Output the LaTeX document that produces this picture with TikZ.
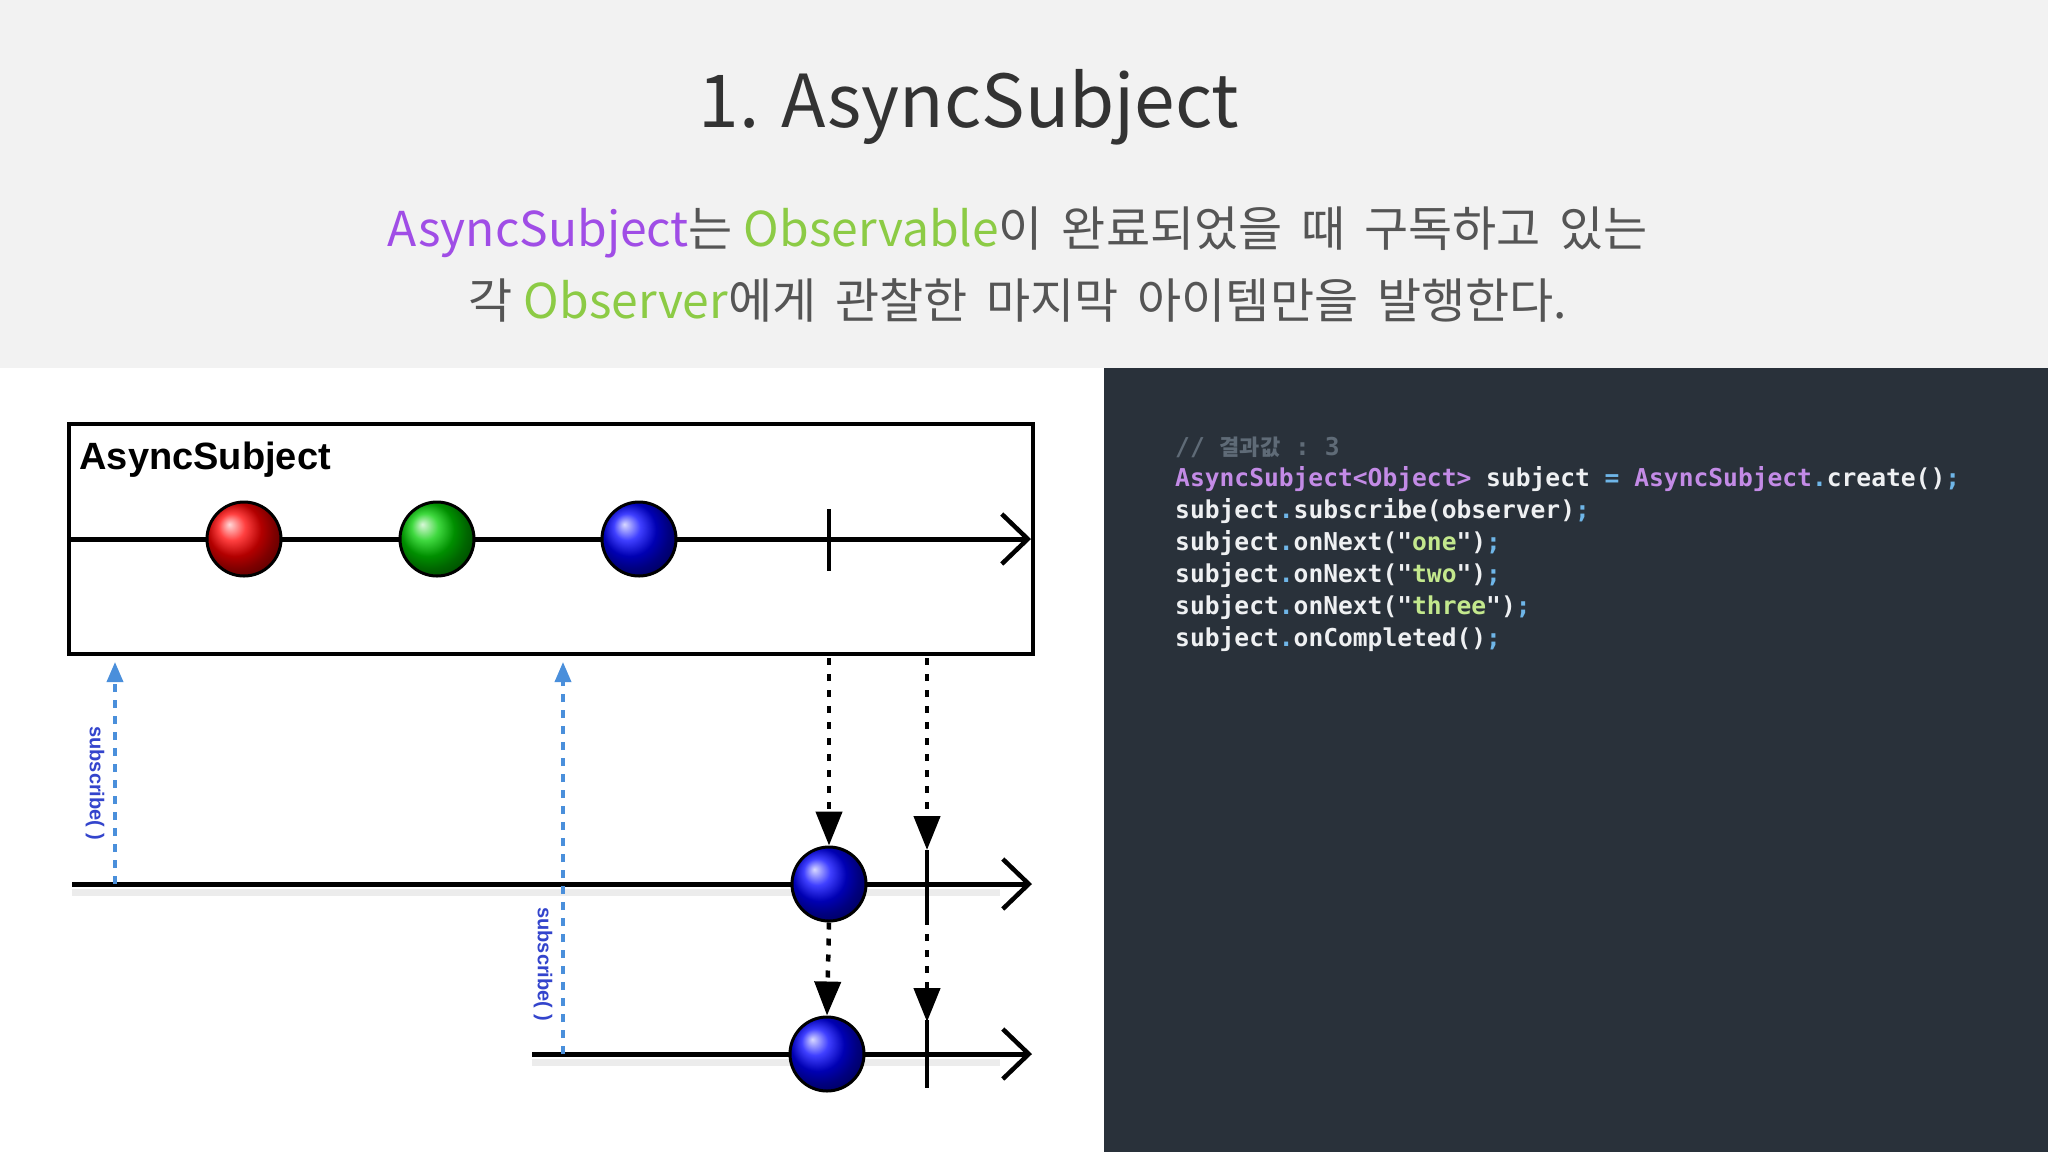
\documentclass[tikz,border=0pt]{standalone}
\usepackage{fontspec}
\setmainfont{Noto Sans CJK KR}
\setsansfont{Liberation Sans}
\setmonofont{DejaVu Sans Mono}
\usetikzlibrary{arrows.meta,shadings}
\definecolor{topbg}{HTML}{F2F2F2}
\definecolor{codebg}{HTML}{29313A}
\definecolor{ttl}{HTML}{333333}
\definecolor{sub}{HTML}{555555}
\definecolor{purp}{HTML}{A04DE6}
\definecolor{grn}{HTML}{8CCB45}
\definecolor{cpurp}{HTML}{C38BE6}
\definecolor{cgrn}{HTML}{C3E88D}
\definecolor{cwhite}{HTML}{EEF0F2}
\definecolor{ccom}{HTML}{5F6B77}
\definecolor{cblue}{HTML}{6FB6E8}
\definecolor{subblue}{HTML}{4A8FDB}
\definecolor{labblue}{HTML}{3344CC}
\tikzset{
  x=1pt,y=-1pt,
  tline/.style={line width=5pt,-{Straight Barb[length=26pt,width=50pt,line width=4.5pt]}},
  tick/.style={line width=4pt},
  ballnode/.style={circle,minimum size=74pt,inner sep=0pt,shading=ball,draw=black,line width=3pt},
  dotarrow/.style={line width=4.5pt,dash pattern=on 7pt off 9pt,-{Triangle[length=34pt,width=26pt]}},
  subarrow/.style={subblue,line width=3.5pt,dash pattern=on 8pt off 8pt,-{Triangle[length=20pt,width=16pt]}},
  sublab/.style={text=labblue,font=\sffamily\bfseries\fontsize{20}{22}\selectfont,rotate=-90},
  codeline/.style={anchor=west,inner sep=0pt,font=\ttfamily\bfseries\fontsize{24.6}{28}\selectfont,text=cwhite},
  subt/.style={text=sub,font=\fontsize{48}{56}\selectfont},
}
\begin{document}
\begin{tikzpicture}
\useasboundingbox (0,0) rectangle (2048,1152);
\fill[white] (0,0) rectangle (2048,1152);
\fill[topbg] (0,0) rectangle (2048,368);
\fill[codebg] (1104,368) rectangle (2048,1152);
\node[text=ttl,font=\fontsize{73}{84}\selectfont] (title) at (969,107) {1. AsyncSubject};
\node[subt] (sub1) at (1018,232) {\textcolor{purp}{AsyncSubject}는 \textcolor{grn}{Observable}이\, 완료되었을\, 때\, 구독하고\, 있는};
\node[subt] (sub2) at (1018,300) {각 \textcolor{grn}{Observer}에게\, 관찰한\, 마지막\, 아이템만을\, 발행한다.};
% diagram box
\draw[line width=4pt] (69,424) rectangle (1033,654);
\node[anchor=west,font=\sffamily\bfseries\fontsize{38}{44}\selectfont] (lab) at (76,460) {AsyncSubject};
\coordinate (s0) at (71,539); \coordinate (e0) at (1031,539);
\draw[tline] (s0) -- (e0);
\draw[tick] (829,509) -- (829,571);
\node[ballnode,ball color=red] (b1) at (244,539) {};
\node[ballnode,ball color=green!80!black] (b2) at (437,539) {};
\node[ballnode,ball color=blue] (b3) at (639,539) {};
% observer lines
\coordinate (s1) at (72,884); \coordinate (e1) at (1032,884);
\fill[gray!15] (72,889) rectangle (1000,896);
\draw[tline] (s1) -- (e1);
\coordinate (s2) at (532,1054); \coordinate (e2) at (1032,1054);
\fill[gray!15] (532,1059) rectangle (1000,1066);
\draw[tline] (s2) -- (e2);
\draw[tick] (927,850) -- (927,918);
\draw[tick] (927,1020) -- (927,1088);
\node[ballnode,ball color=blue] (o1) at (829,884) {};
\node[ballnode,ball color=blue] (o2) at (827,1054) {};
% dotted arrows
\coordinate (d1) at (829,658); \coordinate (d2) at (927,658);
\coordinate (t2) at (927,850); \coordinate (t3) at (927,1022);
\draw[dotarrow] (d1) -- (o1.north);
\draw[dotarrow] (d2) -- (t2);
\draw[dotarrow] (o1.south) -- (o2.north);
\draw[dotarrow] (927,918) -- (t3);
% subscribe arrows
\coordinate (u1) at (115,884); \coordinate (v1) at (115,662);
\coordinate (u2) at (563,1054); \coordinate (v2) at (563,662);
\draw[subarrow] (u1) -- (v1);
\draw[subarrow] (u2) -- (v2);
\node[sublab] (l1) at (95,783) {subscribe( )};
\node[sublab] (l2) at (543,964) {subscribe( )};
% code
\node[codeline,text=ccom] (c0) at (1175,447) {// {\rmfamily\fontsize{22}{26}\selectfont 결과값} : 3};
\node[codeline] (c1) at (1175,479) {\textcolor{cpurp}{AsyncSubject<Object>} subject \textcolor{cblue}{=} \textcolor{cpurp}{AsyncSubject}\textcolor{cblue}{.}create()\textcolor{cblue}{;}};
\node[codeline] (c2) at (1175,511) {subject\textcolor{cblue}{.}subscribe(observer)\textcolor{cblue}{;}};
\node[codeline] (c3) at (1175,543) {subject\textcolor{cblue}{.}onNext("\textcolor{cgrn}{one}")\textcolor{cblue}{;}};
\node[codeline] (c4) at (1175,575) {subject\textcolor{cblue}{.}onNext("\textcolor{cgrn}{two}")\textcolor{cblue}{;}};
\node[codeline] (c5) at (1175,607) {subject\textcolor{cblue}{.}onNext("\textcolor{cgrn}{three}")\textcolor{cblue}{;}};
\node[codeline] (c6) at (1175,639) {subject\textcolor{cblue}{.}onCompleted()\textcolor{cblue}{;}};
\end{tikzpicture}
\end{document}
